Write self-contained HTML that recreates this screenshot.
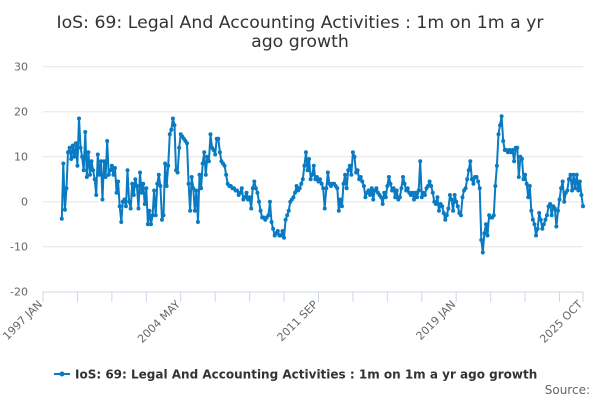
<!DOCTYPE html>
<html><head><meta charset="utf-8"><style>
body{margin:0;background:#fff;}
svg{display:block;font-family:"DejaVu Sans","Liberation Sans",sans-serif;}
</style></head><body>
<svg id="chart" width="600" height="400" viewBox="0 0 600 400">
<text x="300" y="28" text-anchor="middle" font-size="17.3" fill="#333">IoS: 69: Legal And Accounting Activities : 1m on 1m a yr</text>
<text x="300" y="47" text-anchor="middle" font-size="17.3" fill="#333">ago growth</text>
<g id="grid"></g><g id="yaxis"></g><g id="xaxis"></g><g id="series"></g>
<g>
<line x1="54" y1="374" x2="70" y2="374" stroke="#0a7bc2" stroke-width="2"/>
<circle cx="62" cy="374" r="2.5" fill="#0a7bc2"/>
<text x="75" y="378.5" font-size="12" font-weight="bold" fill="#333">IoS: 69: Legal And Accounting Activities : 1m on 1m a yr ago growth</text>
</g>
<text x="590" y="394" text-anchor="end" font-size="12" fill="#666">Source:</text>
</svg>
<script>
const startYear = 1998, startMonth = 0;
const yTicks = [30, 20, 10, 0, -10, -20];
const xLabelMonths = [0, 88, 176, 264, 345];
const xLabels = ["1997 JAN", "2004 MAY", "2011 SEP", "2019 JAN", "2025 OCT"];
const values = [
-3.8,8.5,-1.8,3,11,12,9.5,12.5,10,13,8,18.5,12,10,7,15.5,5.5,11,6,9,7,
5,1.5,10.5,6,9,0.5,9,5.5,13.5,6,7,8,
6,7.5,2,4.5,-1,-4.5,0,0.5,-1,7,0,-1.5,
4,1.5,5,3.5,-1.5,6.5,2,4,-0.5,3,
-5,-2,-5,-3,2.5,-3,4,6,3.5,-4,
-3,8.5,3.5,8,15,16,18.5,17,7,6.5,12,15,
14.5,14,13.5,13,4,-2,5.5,3,-2,2.5,-4.5,6,
3,8.5,11,6,10,9,15,12,11.5,10.5,14,14,
11,9,8.5,8,6,4,3.5,3.5,3,3,2.5,2.5,
1.5,2,3,0.5,1,2,0.5,1,-1.5,3,4.5,3,
2,0,-2,-3.5,-3.5,-4,-3.5,-3,0,-4.5,-6,-7.5,-7,-6.5,-7.5,
-7.5,-6.5,-8,-4,-3,-2,0,0.5,1,2,3.5,2.5,3,4,5,8,
11,7,9.5,5,6,8,5,5.5,4.5,5,4,3,
-1.5,3,6.5,4,3.5,4,4,3.5,3,-2,0.5,-1,
4,6,3,7,8,6,11,10,6.5,7,5,5.5,
4.5,3.5,1,2,2.5,1.5,3,0.5,2.5,3,2,1.5,
1,-0.5,2,1,3.5,5.5,4,2.5,3,1,2.5,0.5,
1,3,5.5,4,2.5,3,2,1.5,2,0.5,2,1,
2.5,9,1,2,1.5,3,3.5,4.5,3.5,2,0,-0.5,
1,-2,-0.5,-1,-2.5,-4,-3,-1.5,1.5,0.5,-2,1.5,
0,-1,-2.5,-3,1,2.5,3,5,7,9,5,4,
5.5,5.5,4.5,3,-8.5,-11.3,-7,-5,-7.5,-3,-3.5,-3.5,
-3,3.5,8,15,17,19,13.5,11.5,11.5,11,11.5,11,
11.5,9,12,12,5.5,10,9.5,5,6,4,1,3.5,
-2,-4,-5,-7.5,-6,-2.5,-4,-6,-5,-4,-3,-1,
-0.5,-3,-1,-1.5,-5.5,-2,0.5,3,4.5,0,2,2.5,
5,6,2.5,6,3,6,2.5,4.5,1.5,-1
];
const NS = "http://www.w3.org/2000/svg";
const X0 = 43, X1 = 583, TOTAL = 345;
const offset = (startYear - 1997) * 12 + startMonth;
function xScale(m){ return X0 + (X1 - X0) * m / TOTAL; }
function yScale(v){ return 201.7 - v * 4.5; }
function mk(tag, attrs, parent){ const e = document.createElementNS(NS, tag); for (const k in attrs) e.setAttribute(k, attrs[k]); parent.appendChild(e); return e; }
const grid = document.getElementById('grid'), yax = document.getElementById('yaxis'), xax = document.getElementById('xaxis'), ser = document.getElementById('series');
yTicks.forEach(t => {
  if (t !== -20) {
    const gl = mk('line', {x1: X0, x2: X1, y1: yScale(t), y2: yScale(t), stroke: '#e6e6e6', 'stroke-width': 1}, grid);
    
    
  }
  const tx = mk('text', {x: 28, y: yScale(t) + 4, 'text-anchor': 'end', 'font-size': 11, fill: '#666'}, yax);
  tx.textContent = t;
  
  
});
const ax = mk('line', {x1: X0, x2: X1, y1: 292, y2: 292, stroke: '#ccd6eb', 'stroke-width': 1}, xax);


const tickMonths = [];
for (let m = 0; m <= 330; m += 22) tickMonths.push(m);
tickMonths.push(TOTAL);
tickMonths.forEach(m => {
  const tk = mk('line', {x1: xScale(m), x2: xScale(m), y1: 292, y2: 302, stroke: '#ccd6eb', 'stroke-width': 1}, xax);
  
  
});
xLabelMonths.forEach((m, i) => {
  const x = xScale(m), y = 305;
  const tx = mk('text', {x: x, y: y, 'text-anchor': 'end', 'font-size': 11, fill: '#666', transform: `rotate(-45 ${x} ${y})`}, xax);
  tx.textContent = xLabels[i];
  
  
});
const pts = values.map((v, i) => [xScale(offset + i), yScale(v)]);
const path = mk('path', {d: 'M' + pts.map(p => p[0].toFixed(1) + ',' + p[1].toFixed(1)).join('L'), fill: 'none', stroke: '#0a7bc2', 'stroke-width': 2, 'stroke-linejoin': 'round'}, ser);


pts.forEach(p => {
  const c = mk('circle', {cx: p[0], cy: p[1], r: 2, fill: '#0a7bc2'}, ser);
  
  
});
</script>
</body></html>
